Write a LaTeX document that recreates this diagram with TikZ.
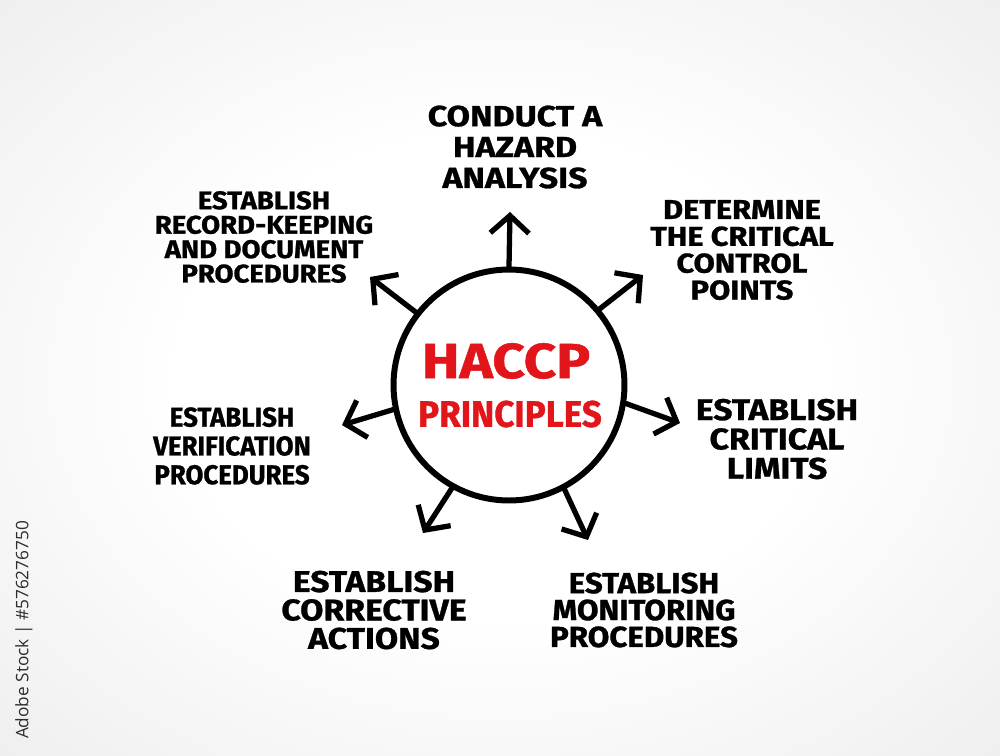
\documentclass[tikz,border=0pt]{standalone}
\usepackage{fontspec}
\setmainfont{Fira Sans}
\newfontfamily\fsA{Fira Sans}[FakeStretch=0.95,FakeBold=1]
\newfontfamily\fsB{Fira Sans}[FakeStretch=1.08,FakeBold=1]
\newfontfamily\fsC{Fira Sans}[FakeStretch=1.13,FakeBold=1]
\newfontfamily\fsD{Fira Sans}[FakeStretch=1.17,FakeBold=1]
\newfontfamily\fsH{Fira Sans}[FakeStretch=1.15,FakeBold=1]
\newfontfamily\fsP{Fira Sans}[FakeStretch=0.95,FakeBold=1]
\newfontfamily\wmfont{Open Sans}
\usetikzlibrary{arrows.meta}
\definecolor{haccpred}{RGB}{226,22,26}
\definecolor{wmgray}{RGB}{45,45,45}
\pgfdeclareradialshading{bgshade}{\pgfpoint{0bp}{0bp}}{color(0bp)=(white); color(16bp)=(white); color(50bp)=(black!11); color(75bp)=(black!13)}
\tikzset{
  lbl/.style n args={3}{font=#1\bfseries\fontsize{#2}{#3}\selectfont, align=center, inner sep=0pt, text=black},
  arr/.style={line width=3pt, line cap=round, line join=round, -{Straight Barb[length=10pt,width=22pt,line width=3pt]}},
  ring/.style={circle, draw=black, line width=3.4pt, fill=white, minimum size=4.62cm, inner sep=0pt}
}
\begin{document}
\begin{tikzpicture}[x=0.02cm,y=-0.02cm]
\shade[shading=bgshade] (0,0) rectangle (1000,755);
\useasboundingbox (0,0) rectangle (1000,755);

% centre circle
\node[ring] (c) at (509,385) {};
\node[font=\fsH\bfseries\fontsize{28}{30}\selectfont, text=haccpred, inner sep=0pt] (haccp) at (506,361) {HACCP};
\node[font=\fsP\bfseries\fontsize{21}{22}\selectfont, text=haccpred, inner sep=0pt] (princ) at (510,414) {PRINCIPLES};

% labels
\node[lbl={\fsD}{16.5}{17.6}] (conduct) at (515,147) {CONDUCT A\\HAZARD\\ANALYSIS};
\node[lbl={\fsC}{15.5}{15.3}] (ccp) at (742,250) {DETERMINE\\THE CRITICAL\\CONTROL\\POINTS};
\node[lbl={\fsC}{17}{16.7}] (limits) at (777,439) {ESTABLISH\\CRITICAL\\LIMITS};
\node[lbl={\fsB}{16.5}{15.3}] (monit) at (644,610) {ESTABLISH\\MONITORING\\PROCEDURES};
\node[lbl={\fsC}{17}{16.2}] (correct) at (374,610) {ESTABLISH\\CORRECTIVE\\ACTIONS};
\node[lbl={\fsA}{15.5}{16.4}] (verif) at (232,446) {ESTABLISH\\VERIFICATION\\PROCEDURES};
\node[lbl={\fsB}{14.5}{13.9}] (record) at (264,237) {ESTABLISH\\RECORD-KEEPING\\AND DOCUMENT\\PROCEDURES};

% arrow tips
\coordinate (tUp) at (510,212);
\coordinate (tUR) at (643,275);
\coordinate (tR) at (680,423);
\coordinate (tLR) at (588,540);
\coordinate (tLL) at (423,533);
\coordinate (tL) at (342,425);
\coordinate (tUL) at (370,277);

\draw[arr] (c.90) -- (tUp);
\draw[arr] (c.40.6) -- (tUR);
\draw[arr] (c.-9.5) -- (tR);
\draw[arr] (c.-62.8) -- (tLR);
\draw[arr] (c.-119) -- (tLL);
\draw[arr] (c.-168) -- (tL);
\draw[arr] (c.142) -- (tUL);

% stock id
\node[font=\wmfont\fontsize{9.8}{10}\selectfont, text=wmgray, rotate=90, inner sep=0pt] (wm) at (24,630) {Adobe Stock | \#576276750};
\end{tikzpicture}
\end{document}
